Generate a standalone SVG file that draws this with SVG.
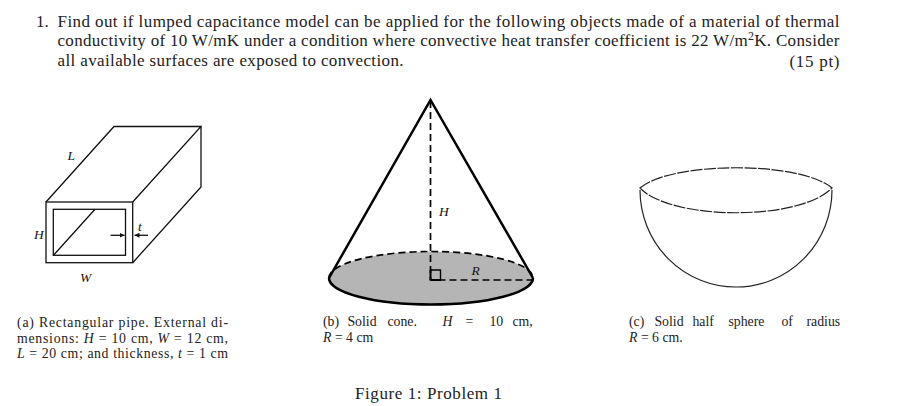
<svg xmlns="http://www.w3.org/2000/svg" width="921" height="406" viewBox="0 0 921 406">
<style>
text{font-family:"Liberation Serif","Times New Roman",serif;fill:#222}
.b{font-size:17px}
.c{font-size:13.800px}
.l{font-size:13.500px;font-style:italic;fill:#111}
.i{font-style:italic}
.p{fill:none;stroke:#111;stroke-width:1.300}
.k{fill:none;stroke:#000;stroke-width:2.500}
.d{fill:none;stroke:#000;stroke-width:1.700;stroke-dasharray:7 4}
.h{fill:none;stroke:#222;stroke-width:1.200}
</style>
<defs><marker id="a" markerUnits="userSpaceOnUse" markerWidth="6" markerHeight="6" refX="5" refY="3" orient="auto"><path d="M0 .5L5 3L0 5.500Z" fill="#111"/></marker></defs>
<rect width="921" height="406" fill="#fff"/>
<g id="heading">
<text class="b" x="36" y="26.500">1.</text>
<text class="b" x="57.500" y="26.500" textLength="782" lengthAdjust="spacing">Find out if lumped capacitance model can be applied for the following objects made of a material of thermal</text>
<text class="b" x="57.500" y="46" textLength="782" lengthAdjust="spacing">conductivity of 10 W/mK under a condition where convective heat transfer coefficient is 22 W/m<tspan font-size="12" dy="-6">2</tspan><tspan dy="6">K. Consider</tspan></text>
<text class="b" x="57.500" y="65.500" textLength="346" lengthAdjust="spacing">all available surfaces are exposed to convection.</text>
<text class="b" x="789.500" y="66.500" textLength="50" lengthAdjust="spacing">(15 pt)</text>
</g>
<g id="pipe">
<path class="p" d="M46 202L114 126.500H201L132.700 202M201 126.500V187L132.700 262.700"/>
<rect class="p" x="46" y="202" width="86.700" height="60.700"/>
<rect class="p" x="53.300" y="209.300" width="72.200" height="46"/>
<path class="p" d="M53.500 255.300L95 209.300"/>
<path class="p" stroke-width="1" marker-end="url(#a)" d="M110.500 235.300H124.500"/>
<path class="p" stroke-width="1" marker-end="url(#a)" d="M148 235.300H134.500"/>
<text class="l" x="67.500" y="160">L</text>
<text class="l" x="34" y="239">H</text>
<text class="l" x="80" y="281.500">W</text>
<text class="l" x="138" y="231">t</text>
</g>
<g id="cone">
<path d="M329 278A102 26.500 0 0 1 533 278A102 26.500 0 0 1 329 278Z" fill="#b5b5b5"/>
<path class="k" d="M329 278A102 26.500 0 0 0 533 278M329 278L430.500 100L533 278"/>
<path class="d" d="M329 278A102 26.500 0 0 1 533 278M430.500 101V280H532"/>
<path d="M430.500 270H440.500V280" fill="none" stroke="#000" stroke-width="1.400"/>
<path d="M430.500 280H441M430.500 270V280" fill="none" stroke="#000" stroke-width="2"/>
<text class="l" x="439" y="216">H</text>
<text class="l" x="471.500" y="275">R</text>
</g>
<g id="hemisphere">
<path class="h" d="M640 188C672 161 800 161 832 188C800 221 672 221 640 188Z" stroke-dasharray="12 1.500"/>
<path class="h" d="M640 190A96 97 0 0 0 832 190"/>
</g>
<g id="captions">
<text class="c" x="17" y="327" textLength="211" lengthAdjust="spacing">(a) Rectangular pipe. External di-</text>
<text class="c" x="17" y="342.500" textLength="211" lengthAdjust="spacing">mensions: <tspan class="i">H</tspan> = 10 cm, <tspan class="i">W</tspan> = 12 cm,</text>
<text class="c" x="17" y="358" textLength="211" lengthAdjust="spacing"><tspan class="i">L</tspan> = 20 cm; and thickness, <tspan class="i">t</tspan> = 1 cm</text>
<text class="c" y="326"><tspan x="323">(b)</tspan><tspan x="344"> Solid</tspan><tspan x="384"> cone.</tspan><tspan x="439" class="i"> H</tspan><tspan x="462"> =</tspan><tspan x="486"> 10</tspan><tspan x="509"> cm,</tspan></text>
<text class="c" x="323" y="342"><tspan class="i">R</tspan> = 4 cm</text>
<text class="c" y="326"><tspan x="629">(c)</tspan><tspan x="651"> Solid</tspan><tspan x="689"> half</tspan><tspan x="725"> sphere</tspan><tspan x="778"> of</tspan><tspan x="803"> radius</tspan></text>
<text class="c" x="629" y="342"><tspan class="i">R</tspan> = 6 cm.</text>
<text class="b" x="355" y="398.500" textLength="147" lengthAdjust="spacing">Figure 1: Problem 1</text>
</g>
</svg>
